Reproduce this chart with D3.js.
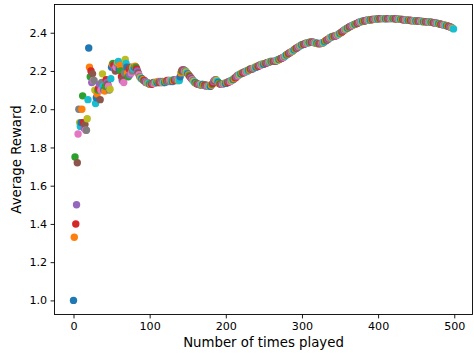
<!DOCTYPE html>
<html>
<head>
<meta charset="utf-8">
<script src="https://cdn.jsdelivr.net/npm/d3@7"></script>
<style>
  html, body { margin: 0; padding: 0; background: #fff; }
  svg { display: block; }
  text { font-family: "DejaVu Sans", sans-serif; fill: #000; }
</style>
</head>
<body>
<svg id="chart" width="474" height="353"></svg>
<script>
// Average reward after each play (index = number of times played)
const avgReward = [
  1.00, 1.33, 1.75, 1.40, 1.50, 1.72, 1.87, 2.00, 1.93, 1.91,
  1.93, 2.00, 2.07, 1.93, 1.90, 1.92, 1.89, 1.89, 1.95, 2.05,
  2.32, 2.22, 2.17, 2.20, 2.14, 2.185, 2.15, 2.15, 2.10, 2.03,
  2.06, 2.08, 2.10, 2.11, 2.13, 2.05, 2.10, 2.14, 2.185, 2.12,
  2.10, 2.095, 2.12, 2.155, 2.14, 2.13, 2.12, 2.10, 2.105, 2.16,
  2.22, 2.235, 2.24, 2.23, 2.21, 2.20, 2.22, 2.24, 2.245, 2.25,
  2.21, 2.23, 2.20, 2.17, 2.15, 2.16, 2.14, 2.19, 2.26, 2.24,
  2.22, 2.19, 2.17, 2.21, 2.18, 2.22, 2.19, 2.20, 2.22, 2.21,
  2.22, 2.225, 2.22, 2.21, 2.20, 2.19, 2.18, 2.17, 2.165, 2.16,
  2.16, 2.155, 2.15, 2.15, 2.145, 2.14, 2.14, 2.14, 2.135, 2.135,
  2.13, 2.13, 2.135, 2.13, 2.135, 2.14, 2.135, 2.14, 2.14, 2.14,
  2.14, 2.145, 2.14, 2.14, 2.145, 2.14, 2.14, 2.145, 2.14, 2.14,
  2.14, 2.145, 2.145, 2.15, 2.145, 2.15, 2.15, 2.145, 2.15, 2.15,
  2.145, 2.15, 2.155, 2.15, 2.155, 2.15, 2.155, 2.15, 2.15, 2.15,
  2.17, 2.19, 2.20, 2.205, 2.205, 2.205, 2.20, 2.20, 2.195, 2.19,
  2.185, 2.18, 2.175, 2.17, 2.165, 2.16, 2.155, 2.15, 2.145, 2.14,
  2.14, 2.135, 2.135, 2.13, 2.13, 2.13, 2.13, 2.125, 2.13, 2.13,
  2.13, 2.125, 2.125, 2.125, 2.12, 2.125, 2.12, 2.12, 2.12, 2.12,
  2.12, 2.125, 2.13, 2.135, 2.145, 2.15, 2.155, 2.155, 2.15, 2.145,
  2.14, 2.135, 2.135, 2.13, 2.13, 2.13, 2.13, 2.135, 2.135, 2.135,
  2.135, 2.14, 2.14, 2.14, 2.145, 2.145, 2.145, 2.15, 2.15, 2.155,
  2.155, 2.16, 2.165, 2.165, 2.17, 2.175, 2.175, 2.18, 2.18, 2.185,
  2.185, 2.19, 2.19, 2.19, 2.195, 2.195, 2.195, 2.20, 2.20, 2.20,
  2.205, 2.205, 2.21, 2.21, 2.21, 2.21, 2.215, 2.215, 2.22, 2.22,
  2.22, 2.225, 2.225, 2.225, 2.23, 2.23, 2.23, 2.235, 2.235, 2.235,
  2.235, 2.24, 2.24, 2.24, 2.243, 2.245, 2.245, 2.245, 2.25, 2.25,
  2.25, 2.25, 2.25, 2.25, 2.25, 2.25, 2.255, 2.255, 2.255, 2.26,
  2.26, 2.262, 2.265, 2.265, 2.268, 2.27, 2.272, 2.275, 2.28, 2.282,
  2.285, 2.288, 2.29, 2.293, 2.295, 2.298, 2.30, 2.302, 2.305, 2.308,
  2.312, 2.315, 2.318, 2.32, 2.322, 2.325, 2.328, 2.33, 2.333, 2.335,
  2.337, 2.338, 2.34, 2.34, 2.342, 2.345, 2.345, 2.347, 2.348, 2.348,
  2.35, 2.35, 2.35, 2.35, 2.35, 2.35, 2.348, 2.347, 2.345, 2.345,
  2.345, 2.343, 2.343, 2.343, 2.343, 2.345, 2.345, 2.345, 2.348, 2.35,
  2.355, 2.358, 2.36, 2.363, 2.365, 2.368, 2.372, 2.375, 2.377, 2.378,
  2.38, 2.38, 2.382, 2.382, 2.383, 2.385, 2.387, 2.389, 2.392, 2.395,
  2.398, 2.40, 2.403, 2.405, 2.41, 2.412, 2.415, 2.418, 2.42, 2.423,
  2.425, 2.427, 2.43, 2.432, 2.434, 2.436, 2.438, 2.44, 2.442, 2.444,
  2.445, 2.447, 2.448, 2.45, 2.452, 2.455, 2.456, 2.457, 2.458, 2.46,
  2.46, 2.461, 2.462, 2.463, 2.464, 2.465, 2.465, 2.466, 2.467, 2.467,
  2.468, 2.468, 2.469, 2.469, 2.47, 2.47, 2.471, 2.471, 2.472, 2.472,
  2.473, 2.473, 2.474, 2.474, 2.474, 2.474, 2.474, 2.474, 2.474, 2.474,
  2.473, 2.474, 2.474, 2.474, 2.474, 2.474, 2.474, 2.474, 2.474, 2.474,
  2.474, 2.474, 2.473, 2.473, 2.473, 2.472, 2.472, 2.471, 2.471, 2.47,
  2.47, 2.469, 2.469, 2.468, 2.468, 2.467, 2.467, 2.466, 2.466, 2.465,
  2.465, 2.465, 2.464, 2.464, 2.464, 2.463, 2.463, 2.463, 2.462, 2.462,
  2.462, 2.461, 2.461, 2.461, 2.46, 2.46, 2.46, 2.459, 2.459, 2.459,
  2.458, 2.458, 2.458, 2.457, 2.457, 2.457, 2.456, 2.456, 2.455, 2.455,
  2.455, 2.454, 2.453, 2.452, 2.452, 2.451, 2.45, 2.45, 2.449, 2.448,
  2.447, 2.446, 2.445, 2.444, 2.443, 2.442, 2.441, 2.44, 2.439, 2.438,
  2.437, 2.436, 2.434, 2.433, 2.431, 2.43, 2.428, 2.426, 2.423, 2.42
];
const xTicks = [0, 100, 200, 300, 400, 500];
const yTicks = [1.0, 1.2, 1.4, 1.6, 1.8, 2.0, 2.2, 2.4];
const palette = ["#1f77b4", "#ff7f0e", "#2ca02c", "#d62728", "#9467bd",
                 "#8c564b", "#e377c2", "#7f7f7f", "#bcbd22", "#17becf"];
const xLabel = "Number of times played";
const yLabel = "Average Reward";

const data = avgReward.map((v, i) => ({ x: i, y: v }));

const svg = d3.select("#chart");
const plot = { left: 54.5, right: 472.5, top: 4.5, bottom: 314.5 };

const xExt = d3.extent(data, d => d.x);
const yExt = d3.extent(data, d => d.y);
const xPad = (xExt[1] - xExt[0]) * 0.05;
const yPad = (yExt[1] - yExt[0]) * 0.05;

const x = d3.scaleLinear().domain([xExt[0] - xPad, xExt[1] + xPad]).range([plot.left, plot.right]);
const y = d3.scaleLinear().domain([yExt[0] - yPad, yExt[1] + yPad]).range([plot.bottom, plot.top]);

// points
svg.append("g").selectAll("circle").data(data).join("circle")
  .attr("cx", d => x(d.x))
  .attr("cy", d => y(d.y))
  .attr("r", 3.7)
  .attr("fill", (d, i) => palette[i % 10]);

// axes
const xAxis = d3.axisBottom(x).tickValues(xTicks).tickFormat(d3.format("d")).tickSizeOuter(0).tickSize(3.9).tickPadding(3.5);
const yAxis = d3.axisLeft(y).tickValues(yTicks).tickFormat(d3.format(".1f")).tickSizeOuter(0).tickSize(3.9).tickPadding(3.5);

const gx = svg.append("g").attr("transform", `translate(0,${plot.bottom})`).call(xAxis);
const gy = svg.append("g").attr("transform", `translate(${plot.left},0)`).call(yAxis);
[gx, gy].forEach(g => {
  g.select(".domain").remove();
  g.selectAll(".tick line").attr("stroke", "#000").attr("stroke-width", 0.9);
  g.selectAll(".tick text").attr("font-family", "DejaVu Sans").attr("font-size", 11.1).attr("fill", "#000");
});

// frame
svg.append("rect")
  .attr("x", plot.left).attr("y", plot.top)
  .attr("width", plot.right - plot.left).attr("height", plot.bottom - plot.top)
  .attr("fill", "none").attr("stroke", "#000").attr("stroke-width", 0.9);

// labels
svg.append("text")
  .attr("x", (plot.left + plot.right) / 2).attr("y", 347)
  .attr("text-anchor", "middle").attr("font-size", 13.3)
  .text(xLabel);
svg.append("text")
  .attr("transform", `translate(21,${(plot.top + plot.bottom) / 2}) rotate(-90)`)
  .attr("text-anchor", "middle").attr("font-size", 13.3)
  .text(yLabel);
</script>
</body>
</html>
